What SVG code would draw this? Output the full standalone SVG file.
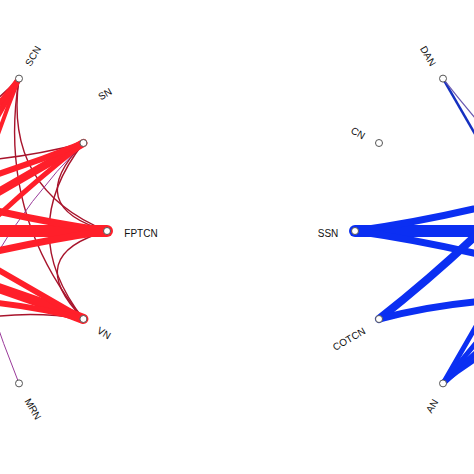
<svg xmlns="http://www.w3.org/2000/svg" width="474" height="474" viewBox="0 0 474 474">
<style>
.r{fill:none;stroke:#ff1f2a;stroke-linecap:round}
.rt{fill:none;stroke:#a8142c;stroke-width:1.4}
.p{fill:none;stroke:#9a3a9a;stroke-width:1}
.b{fill:none;stroke:#0b2ff2;stroke-linecap:round}
.node{fill:#fff;stroke:#555;stroke-width:1}
.lbl{font-family:"Liberation Sans",Arial,sans-serif;font-size:10px;fill:#111}
</style>
<rect width="474" height="474" fill="#fff"/>
<g id="connectors">
<path class="rt" d="M83.4 143 Q21.3 206.8 107 231"/>
<path class="rt" d="M107 231 Q21.3 255.2 83.4 319"/>
<path class="rt" d="M83.4 143 Q14.8 231 83.4 319"/>
<path class="rt" d="M19 78.6 Q3.6 189.1 107 231"/>
<path class="rt" d="M19 78.6 Q-2.9 213.3 83.4 319"/>
<path class="rt" d="M83.4 143 Q-69 182.6 -221.4 143"/>
<path class="rt" d="M19 78.6 Q-93.2 189.1 -245 231"/>
<path class="rt" d="M83.4 319 Q-51.3 297.1 -157 383.4"/>
<path class="p" d="M19 383.4 Q-44.8 224.5 -69 55"/>
<path class="p" d="M83.4 143 Q-27.1 255.2 -69 407"/>
<path class="r" stroke-width="12" d="M107 231 L-245 231"/>
<path class="r" stroke-width="7" d="M107 231 Q-62.5 206.8 -221.4 143"/>
<path class="r" stroke-width="7" d="M107 231 Q-62.5 255.2 -221.4 319"/>
<path class="r" stroke-width="8" d="M83.4 143 L-221.4 319"/>
<path class="r" stroke-width="6" d="M83.4 143 Q-75.5 206.8 -245 231"/>
<path class="r" stroke-width="5" d="M83.4 143 Q-51.3 248.7 -157 383.4"/>
<path class="r" stroke-width="10" d="M83.4 319 Q-75.5 255.2 -245 231"/>
<path class="r" stroke-width="6" d="M83.4 319 L-221.4 143"/>
<path class="r" stroke-width="6" d="M83.4 319 Q-69 279.4 -221.4 319"/>
<path class="r" stroke-width="6" d="M19 78.6 L-157 383.4"/>
<path class="r" stroke-width="5" d="M19 78.6 Q-86.7 213.3 -221.4 319"/>
<path class="r" stroke-width="4" d="M19 78.6 Q-44.8 237.5 -69 407"/>
<path class="b" stroke-width="12" d="M355 231 L707 231"/>
<path class="b" stroke-width="7" d="M355 231 Q524.5 206.8 683.4 143"/>
<path class="b" stroke-width="7" d="M355 231 Q524.5 255.2 683.4 319"/>
<path class="b" stroke-width="8" d="M379 319 Q513.4 213.3 619 78.6"/>
<path class="b" stroke-width="7" d="M379 319 Q531.1 279.4 683.4 319"/>
<path class="b" stroke-width="6" d="M443 383.4 Q555.2 272.9 707 231"/>
<path class="b" stroke-width="5" d="M443 383.4 Q548.7 248.7 683.4 143"/>
<path class="b" stroke-width="5" d="M443 383.4 L619 78.6"/>
<path class="b" stroke-width="4" d="M443 383.4 Q548.7 297.1 683.4 319"/>
<path fill="none" stroke="#1530c0" stroke-width="2.5" d="M443 78.6 L619 383.4"/>
<path fill="none" stroke="#6a5ab0" stroke-width="1.2" d="M443 78.6 Q548.7 213.3 683.4 319"/>
</g>
<g id="SCN"><circle class="node" cx="19" cy="78.6" r="3.5"/><text class="lbl" text-anchor="middle" dominant-baseline="central" transform="translate(33,56) rotate(-60)">SCN</text></g>
<g id="SN"><circle class="node" cx="83.4" cy="143" r="3.5"/><text class="lbl" text-anchor="middle" dominant-baseline="central" transform="translate(105,94) rotate(-30)">SN</text></g>
<g id="FPTCN"><circle class="node" cx="107" cy="231" r="3.5"/><text class="lbl" text-anchor="middle" dominant-baseline="central" transform="translate(141,233)">FPTCN</text></g>
<g id="VN"><circle class="node" cx="83.4" cy="319" r="3.5"/><text class="lbl" text-anchor="middle" dominant-baseline="central" transform="translate(104,333) rotate(30)">VN</text></g>
<g id="MRN"><circle class="node" cx="19" cy="383.4" r="3.5"/><text class="lbl" text-anchor="middle" dominant-baseline="central" transform="translate(33,409) rotate(60)">MRN</text></g>
<g id="DAN"><circle class="node" cx="443" cy="78.6" r="3.5"/><text class="lbl" text-anchor="middle" dominant-baseline="central" transform="translate(428,56) rotate(60)">DAN</text></g>
<g id="CN"><circle class="node" cx="379" cy="143" r="3.5"/><text class="lbl" text-anchor="middle" dominant-baseline="central" transform="translate(358,133) rotate(30)">CN</text></g>
<g id="SSN"><circle class="node" cx="355" cy="231" r="3.5"/><text class="lbl" text-anchor="middle" dominant-baseline="central" transform="translate(328,233)">SSN</text></g>
<g id="COTCN"><circle class="node" cx="379" cy="319" r="3.5"/><text class="lbl" text-anchor="middle" dominant-baseline="central" transform="translate(349,339) rotate(-30)">COTCN</text></g>
<g id="AN"><circle class="node" cx="443" cy="383.4" r="3.5"/><text class="lbl" text-anchor="middle" dominant-baseline="central" transform="translate(432,406) rotate(-60)">AN</text></g>
</svg>
